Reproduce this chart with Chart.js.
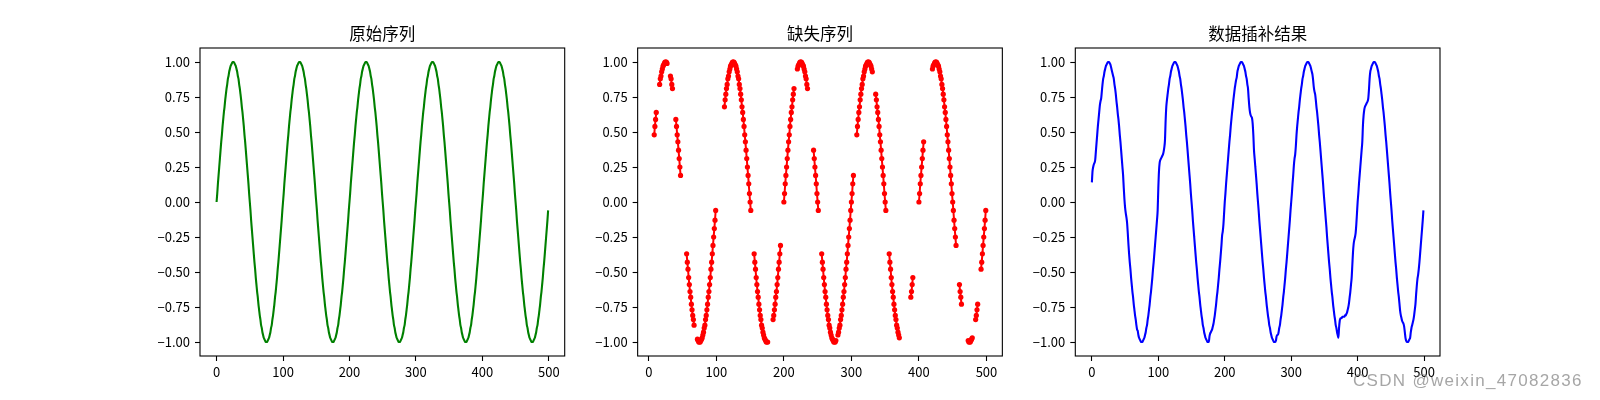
<!DOCTYPE html>
<html>
<head>
<meta charset="utf-8">
<script src="https://cdn.jsdelivr.net/npm/chart.js@4.4.1/dist/chart.umd.min.js"></script>
<style>
  body { margin: 0; background: #fff; width: 1600px; height: 400px; position: relative; overflow: hidden; }
  canvas { position: absolute; top: 0; }
  .mark { position: absolute; left: 1353px; top: 372px; font: 17px "Liberation Sans", Arial, sans-serif; line-height: 1;
          letter-spacing: 1.3px; color: rgba(128, 128, 128, 0.7); white-space: nowrap; }
</style>
</head>
<body>
<canvas id="p0" width="450" height="400" style="left:130px"></canvas>
<canvas id="p1" width="450" height="400" style="left:567px"></canvas>
<canvas id="p2" width="450" height="400" style="left:1005px"></canvas>
<div class="mark">CSDN @weixin_47082836</div>
<script>
const titles = ['原始序列', '缺失序列', '数据插补结果']
const xTicks = [0, 100, 200, 300, 400, 500]
const yTicks = [-1, -0.75, -0.5, -0.25, 0, 0.25, 0.5, 0.75, 1]

// 原始序列, one value per index 0..499
const originalValues = [
  0, .06, .13, .19, .25, .31, .37, .43, .48, .54,
  .59, .64, .68, .73, .77, .81, .84, .88, .90, .93,
  .95, .97, .98, .99, 1, 1, 1, .99, .98, .97,
  .95, .93, .90, .88, .84, .81, .77, .73, .68, .64,
  .59, .54, .48, .43, .37, .31, .25, .19, .13, .06,
  0, -.06, -.13, -.19, -.25, -.31, -.37, -.43, -.48, -.54,
  -.59, -.64, -.68, -.73, -.77, -.81, -.84, -.88, -.90, -.93,
  -.95, -.97, -.98, -.99, -1, -1, -1, -.99, -.98, -.97,
  -.95, -.93, -.90, -.88, -.84, -.81, -.77, -.73, -.68, -.64,
  -.59, -.54, -.48, -.43, -.37, -.31, -.25, -.19, -.13, -.06,
  0, .06, .13, .19, .25, .31, .37, .43, .48, .54,
  .59, .64, .68, .73, .77, .81, .84, .88, .90, .93,
  .95, .97, .98, .99, 1, 1, 1, .99, .98, .97,
  .95, .93, .90, .88, .84, .81, .77, .73, .68, .64,
  .59, .54, .48, .43, .37, .31, .25, .19, .13, .06,
  0, -.06, -.13, -.19, -.25, -.31, -.37, -.43, -.48, -.54,
  -.59, -.64, -.68, -.73, -.77, -.81, -.84, -.88, -.90, -.93,
  -.95, -.97, -.98, -.99, -1, -1, -1, -.99, -.98, -.97,
  -.95, -.93, -.90, -.88, -.84, -.81, -.77, -.73, -.68, -.64,
  -.59, -.54, -.48, -.43, -.37, -.31, -.25, -.19, -.13, -.06,
  0, .06, .13, .19, .25, .31, .37, .43, .48, .54,
  .59, .64, .68, .73, .77, .81, .84, .88, .90, .93,
  .95, .97, .98, .99, 1, 1, 1, .99, .98, .97,
  .95, .93, .90, .88, .84, .81, .77, .73, .68, .64,
  .59, .54, .48, .43, .37, .31, .25, .19, .13, .06,
  0, -.06, -.13, -.19, -.25, -.31, -.37, -.43, -.48, -.54,
  -.59, -.64, -.68, -.73, -.77, -.81, -.84, -.88, -.90, -.93,
  -.95, -.97, -.98, -.99, -1, -1, -1, -.99, -.98, -.97,
  -.95, -.93, -.90, -.88, -.84, -.81, -.77, -.73, -.68, -.64,
  -.59, -.54, -.48, -.43, -.37, -.31, -.25, -.19, -.13, -.06,
  0, .06, .13, .19, .25, .31, .37, .43, .48, .54,
  .59, .64, .68, .73, .77, .81, .84, .88, .90, .93,
  .95, .97, .98, .99, 1, 1, 1, .99, .98, .97,
  .95, .93, .90, .88, .84, .81, .77, .73, .68, .64,
  .59, .54, .48, .43, .37, .31, .25, .19, .13, .06,
  0, -.06, -.13, -.19, -.25, -.31, -.37, -.43, -.48, -.54,
  -.59, -.64, -.68, -.73, -.77, -.81, -.84, -.88, -.90, -.93,
  -.95, -.97, -.98, -.99, -1, -1, -1, -.99, -.98, -.97,
  -.95, -.93, -.90, -.88, -.84, -.81, -.77, -.73, -.68, -.64,
  -.59, -.54, -.48, -.43, -.37, -.31, -.25, -.19, -.13, -.06,
  0, .06, .13, .19, .25, .31, .37, .43, .48, .54,
  .59, .64, .68, .73, .77, .81, .84, .88, .90, .93,
  .95, .97, .98, .99, 1, 1, 1, .99, .98, .97,
  .95, .93, .90, .88, .84, .81, .77, .73, .68, .64,
  .59, .54, .48, .43, .37, .31, .25, .19, .13, .06,
  0, -.06, -.13, -.19, -.25, -.31, -.37, -.43, -.48, -.54,
  -.59, -.64, -.68, -.73, -.77, -.81, -.84, -.88, -.90, -.93,
  -.95, -.97, -.98, -.99, -1, -1, -1, -.99, -.98, -.97,
  -.95, -.93, -.90, -.88, -.84, -.81, -.77, -.73, -.68, -.64,
  -.59, -.54, -.48, -.43, -.37, -.31, -.25, -.19, -.13, -.06
]

// 缺失序列: index ranges that survived (inclusive), values come from originalValues
const observedRanges = [
  [8, 11], [16, 27], [32, 35], [40, 47], [56, 67], [72, 99], [112, 151], [156, 176],
  [184, 195], [200, 215], [220, 235], [244, 251], [256, 277], [280, 303], [308, 331],
  [336, 351], [356, 371], [388, 391], [400, 407], [420, 455], [460, 463], [473, 479],
  [484, 487], [492, 499]
]

// 数据插补结果, one value per index 0..499
const imputedValues = [
  .14, .22, .25, .27, .28, .30, .36, .42, .48, .54,
  .59, .64, .69, .72, .74, .79, .84, .88, .90, .93,
  .95, .97, .98, .99, 1, 1, 1, .99, .98, .96,
  .94, .92, .90, .88, .84, .81, .77, .72, .68, .63,
  .59, .54, .48, .43, .37, .31, .25, .19, .10, .02,
  -.04, -.08, -.11, -.15, -.22, -.30, -.37, -.43, -.48, -.54,
  -.59, -.64, -.68, -.73, -.77, -.81, -.84, -.88, -.91, -.92,
  -.95, -.97, -.98, -.99, -1, -1, -1, -.99, -.98, -.97,
  -.95, -.93, -.90, -.88, -.84, -.81, -.77, -.73, -.68, -.64,
  -.59, -.54, -.48, -.43, -.37, -.31, -.25, -.19, -.13, -.06,
  .10, .22, .28, .30, .31, .32, .33, .34, .36, .39,
  .44, .58, .68, .73, .77, .81, .84, .88, .90, .93,
  .95, .97, .98, .99, 1, 1, 1, .99, .98, .97,
  .95, .93, .90, .88, .84, .81, .77, .73, .68, .64,
  .59, .54, .48, .43, .37, .31, .25, .19, .13, .06,
  0, -.06, -.13, -.19, -.25, -.31, -.37, -.43, -.48, -.54,
  -.59, -.64, -.68, -.73, -.77, -.81, -.84, -.88, -.90, -.93,
  -.95, -.97, -.98, -.99, -1, -1, -1, -.96, -.94, -.93,
  -.92, -.91, -.89, -.87, -.84, -.81, -.77, -.73, -.68, -.64,
  -.59, -.54, -.48, -.43, -.37, -.31, -.24, -.21, -.16, -.08,
  0, .06, .13, .19, .25, .31, .37, .43, .48, .54,
  .59, .64, .68, .73, .77, .81, .84, .87, .89, .93,
  .95, .97, .98, .99, 1, 1, 1, .99, .98, .97,
  .95, .93, .90, .88, .84, .81, .74, .68, .64, .62,
  .61, .60, .56, .48, .37, .31, .25, .19, .13, .06,
  0, -.06, -.13, -.19, -.25, -.31, -.37, -.43, -.48, -.54,
  -.59, -.64, -.68, -.73, -.77, -.81, -.84, -.88, -.90, -.93,
  -.95, -.97, -.98, -.99, -1, -1, -1, -.99, -.96, -.95,
  -.95, -.93, -.90, -.88, -.84, -.81, -.77, -.73, -.68, -.64,
  -.59, -.54, -.48, -.43, -.37, -.31, -.25, -.19, -.13, -.06,
  0, .06, .13, .19, .26, .31, .34, .40, .48, .54,
  .59, .64, .68, .73, .77, .81, .84, .88, .90, .93,
  .95, .97, .98, .99, 1, 1, 1, .99, .98, .97,
  .95, .93, .91, .87, .82, .79, .77, .73, .68, .64,
  .59, .54, .48, .43, .37, .31, .25, .19, .13, .06,
  0, -.06, -.12, -.18, -.25, -.31, -.37, -.43, -.48, -.54,
  -.59, -.64, -.68, -.73, -.77, -.81, -.84, -.88, -.90, -.93,
  -.95, -.97, -.90, -.85, -.83, -.83, -.83, -.82, -.82, -.82,
  -.82, -.81, -.81, -.80, -.79, -.77, -.75, -.72, -.68, -.64,
  -.59, -.54, -.45, -.36, -.30, -.27, -.25, -.22, -.16, -.08,
  0, .06, .13, .19, .25, .31, .37, .43, .55, .62,
  .66, .68, .69, .70, .71, .72, .74, .80, .88, .93,
  .95, .97, .98, .99, 1, 1, 1, .99, .98, .97,
  .95, .93, .90, .88, .84, .81, .77, .73, .68, .64,
  .59, .54, .48, .43, .37, .31, .25, .19, .13, .06,
  0, -.06, -.13, -.19, -.25, -.31, -.37, -.43, -.48, -.54,
  -.59, -.64, -.68, -.73, -.78, -.81, -.83, -.85, -.86, -.87,
  -.89, -.93, -.97, -.99, -1, -1, -1, -.99, -.98, -.97,
  -.93, -.90, -.88, -.86, -.84, -.81, -.77, -.73, -.66, -.60,
  -.55, -.52, -.48, -.43, -.37, -.31, -.25, -.19, -.13, -.06
]

if (imputedValues.length !== originalValues.length) throw new Error('length ' + imputedValues.length)

// matplotlib-like figure geometry (16x4 in, 1x3 subplots)
const AX_TOP = 48
const AX_BOTTOM = 356
const AX_W = 364.7
const CANVAS_W = 450
const CANVAS_H = 400
const axisLefts = [200, 637.65, 1075.3]
const canvasLefts = [130, 567, 1005]

Chart.defaults.font.family = '"Noto Sans CJK SC", "Noto Sans", sans-serif'
Chart.defaults.font.size = 13
Chart.defaults.color = '#000'

const toPoints = (values) => values.map((y, x) => ({ x, y }))
const isObserved = (i) => observedRanges.some(([a, b]) => i >= a && i <= b)

// axis frame (all four spines) and the subplot title
const framePlugin = {
  id: 'frame',
  afterDraw(chart, args, opts) {
    const { ctx, chartArea: a } = chart
    ctx.save()
    ctx.strokeStyle = '#000'
    ctx.lineWidth = 1.1
    ctx.strokeRect(a.left, a.top, a.right - a.left, a.bottom - a.top)
    ctx.fillStyle = '#000'
    ctx.font = '16.5px "Noto Sans CJK SC"'
    ctx.textAlign = 'center'
    ctx.textBaseline = 'alphabetic'
    ctx.fillText(opts.text, (a.left + a.right) / 2, 40)
    ctx.restore()
  }
}

function limits(values) {
  const lo = Math.min(...values)
  const hi = Math.max(...values)
  const m = (hi - lo) * 0.05
  return [lo - m, hi + m]
}

function makePanel(i, dataset) {
  const present = dataset.data.filter((p) => p.y !== null)
  const [xMin, xMax] = limits(present.map((p) => p.x))
  const [yMin, yMax] = limits(present.map((p) => p.y))
  const yAxisW = axisLefts[i] - canvasLefts[i]
  const tickGrid = { display: true, drawOnChartArea: false, drawTicks: true, tickLength: 5, tickWidth: 1.1, tickColor: '#000' }

  return new Chart(document.getElementById('p' + i), {
    type: 'line',
    data: { datasets: [dataset] },
    options: {
      responsive: false,
      animation: false,
      devicePixelRatio: 1,
      events: [],
      layout: { padding: { top: AX_TOP, bottom: 0, left: 0, right: CANVAS_W - yAxisW - AX_W } },
      plugins: { legend: { display: false }, tooltip: { enabled: false }, frame: { text: titles[i] } },
      scales: {
        x: {
          type: 'linear', min: xMin, max: xMax,
          afterBuildTicks: (s) => { s.ticks = xTicks.map((value) => ({ value })) },
          afterFit: (s) => { s.height = CANVAS_H - AX_BOTTOM },
          grid: tickGrid, border: { display: false },
          ticks: { autoSkip: false, maxRotation: 0, padding: 3, callback: (v) => String(v) }
        },
        y: {
          type: 'linear', min: yMin, max: yMax,
          afterBuildTicks: (s) => { s.ticks = yTicks.map((value) => ({ value })) },
          afterFit: (s) => { s.width = yAxisW },
          grid: tickGrid, border: { display: false },
          ticks: { autoSkip: false, padding: 5, callback: (v) => v.toFixed(2).replace('-', '\u2212') }
        }
      }
    },
    plugins: [framePlugin]
  })
}

// monotone curve keeps Chart.js off its per-pixel "fast path", which made the lines look stepped
const lineStyle = { borderWidth: 2.1, pointRadius: 0, cubicInterpolationMode: 'monotone', borderJoinStyle: 'round', parsing: false }

makePanel(0, { ...lineStyle, borderColor: '#008000', data: toPoints(originalValues) })

makePanel(1, {
  ...lineStyle, borderColor: '#ff0000', borderWidth: 2, spanGaps: false,
  pointRadius: 2.6, pointBorderWidth: 0, pointBackgroundColor: '#ff0000',
  data: toPoints(originalValues.map((v, i) => (isObserved(i) ? v : null)))
})

makePanel(2, { ...lineStyle, borderColor: '#0000ff', data: toPoints(imputedValues) })
</script>
</body>
</html>
